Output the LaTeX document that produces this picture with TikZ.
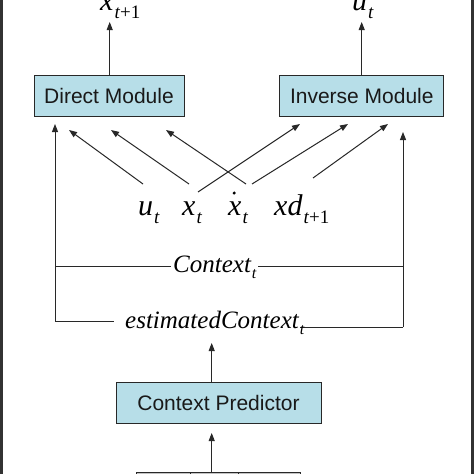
\documentclass[tikz,border=0pt]{standalone}
\usepackage{fontspec}
\setmainfont{Liberation Serif}
\newfontfamily\arial{Liberation Sans}
\usetikzlibrary{arrows.meta}
\definecolor{boxfill}{RGB}{183,222,232}
\definecolor{linec}{RGB}{40,40,40}
\definecolor{framec}{RGB}{50,50,50}
\definecolor{grayfill}{RGB}{195,195,195}
\newcommand{\biglab}[2]{{\fontsize{30}{30}\selectfont\itshape #1}\kern1pt\raisebox{-8pt}{\fontsize{19}{19}\selectfont #2}}
\newcommand{\midlab}[2]{{\fontsize{25}{25}\selectfont\itshape #1}\kern1pt\raisebox{-6pt}{\fontsize{16}{16}\selectfont\itshape #2}}
\tikzset{
  modbox/.style={draw=linec, line width=1pt, fill=boxfill, rectangle, inner sep=0pt,
    font=\arial\fontsize{21}{21}\selectfont, text=black!90},
  graybox/.style={draw=linec, line width=1pt, fill=grayfill, rectangle, inner sep=0pt},
  lab/.style={inner sep=0pt, anchor=base west},
  conn/.style={draw=linec, line width=1pt, -{Triangle[length=8pt,width=6pt]}},
  plain/.style={draw=linec, line width=1pt},
}
\begin{document}
\begin{tikzpicture}[x=1pt,y=-1pt]
\useasboundingbox (0,0) rectangle (474,474);
\fill[white] (0,0) rectangle (474,474);
% frame bands
\fill[framec] (0,0) rectangle (2.5,474);
\fill[framec] (471,0) rectangle (474,474);

% modules
\node[modbox, minimum width=150pt, minimum height=41.5pt] (dm) at (109,96) {Direct Module};
\node[modbox, minimum width=163.7pt, minimum height=41.5pt] (im) at (361.8,96) {Inverse Module};
\node[modbox, minimum width=205pt, minimum height=41pt] (cp) at (218.5,403.3) {Context Predictor};

% bottom boxes (cut off)
\begin{scope}
\clip (0,0) rectangle (474,474);
\node[graybox, minimum width=54pt, minimum height=26pt] (b1) at (163.8,485) {};
\node[graybox, minimum width=47.6pt, minimum height=26pt] (b2) at (214.5,485) {};
\node[graybox, minimum width=61.7pt, minimum height=26pt] (b3) at (269.2,485) {};
\end{scope}

% top outputs
\node[lab] (xo) at (100,10) {\biglab{x}{\textit{t}+1}};
\node[lab] (uo) at (352,10) {\biglab{u}{\textit{t}}};
\coordinate (dmtop) at (109.7,75);
\coordinate (imtop) at (361.7,75);
\coordinate (xotip) at (109.7,22);
\coordinate (uotip) at (361.7,22);
\draw[conn] (dmtop) -- (xotip);
\draw[conn] (imtop) -- (uotip);

% input labels
\node[lab] (ut) at (138,215) {\biglab{u}{\textit{t}}};
\node[lab] (xt) at (182,215) {\biglab{x}{\textit{t}}};
\node[lab] (xdt) at (228,215) {\biglab{x}{\textit{t}}};
\fill[black] (234.2,193) circle (1.7);
\node[lab] (xdd) at (274,215) {\biglab{xd}{\textit{t}+1}};

% start points of input arrows
\coordinate (su) at (143,184);
\coordinate (sx1) at (189,184);
\coordinate (sx2) at (198,192);
\coordinate (sxd1) at (246,184);
\coordinate (sxd2) at (252,184);
\coordinate (sxdd) at (313,178);
% tips under modules
\coordinate (tu) at (69,130);
\coordinate (tx1) at (111,130);
\coordinate (txd1) at (166,130);
\coordinate (tx2) at (300,124);
\coordinate (txd2) at (348,124);
\coordinate (txdd) at (388,124);
\draw[conn] (su) -- (tu);
\draw[conn] (sx1) -- (tx1);
\draw[conn] (sxd1) -- (txd1);
\draw[conn] (sx2) -- (tx2);
\draw[conn] (sxd2) -- (txd2);
\draw[conn] (sxdd) -- (txdd);

% context lines
\coordinate (ecl) at (55,321);
\coordinate (ecl2) at (114,321);
\coordinate (ecr) at (403,327);
\coordinate (ecr2) at (300,327);
\coordinate (ltip) at (55,124);
\coordinate (rtip) at (403,132);
\coordinate (cl) at (55,266.7);
\coordinate (cr) at (403,266.7);
\draw[conn] (ecl) -- (ltip);
\draw[conn] (ecr) -- (rtip);
\draw[plain] (ecl) -- (ecl2);
\draw[plain] (ecr2) -- (ecr);
\draw[plain] (cl) -- (cr);
\node[lab, fill=white, inner xsep=2pt, inner ysep=1pt] (ctx) at (171,272.7) {\midlab{Context}{t}};
\node[lab] (ectx) at (125,328) {\midlab{estimatedContext}{t}};

% predictor arrows
\coordinate (cptop) at (211.7,383);
\coordinate (cptip) at (211.7,343);
\coordinate (pin) at (211.7,472);
\coordinate (cpbot) at (211.7,433);
\draw[conn] (cptop) -- (cptip);
\draw[conn] (pin) -- (cpbot);
\end{tikzpicture}
\end{document}
